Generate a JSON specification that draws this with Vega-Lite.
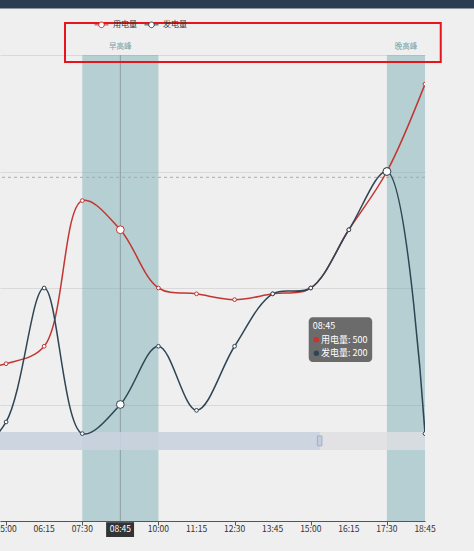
{
  "$schema": "https://vega.github.io/schema/vega-lite/v6.json",
  "width": 425,
  "height": 466,
  "autosize": {"type": "none"},
  "padding": {"left": 0, "top": 55, "right": 49, "bottom": 30},
  "background": "#efefef",
  "config": {
    "view": {"stroke": null},
    "font": "Noto Sans CJK SC"
  },
  "datasets": {
    "power": [
      {"t": 225, "time": "03:45", "series": "用电量", "value": 260},
      {"t": 300, "time": "05:00", "series": "用电量", "value": 270},
      {"t": 375, "time": "06:15", "series": "用电量", "value": 300},
      {"t": 450, "time": "07:30", "series": "用电量", "value": 550},
      {"t": 525, "time": "08:45", "series": "用电量", "value": 500},
      {"t": 600, "time": "10:00", "series": "用电量", "value": 400},
      {"t": 675, "time": "11:15", "series": "用电量", "value": 390},
      {"t": 750, "time": "12:30", "series": "用电量", "value": 380},
      {"t": 825, "time": "13:45", "series": "用电量", "value": 390},
      {"t": 900, "time": "15:00", "series": "用电量", "value": 400},
      {"t": 975, "time": "16:15", "series": "用电量", "value": 500},
      {"t": 1050, "time": "17:30", "series": "用电量", "value": 600},
      {"t": 1125, "time": "18:45", "series": "用电量", "value": 750},
      {"t": 225, "time": "03:45", "series": "发电量", "value": 100},
      {"t": 300, "time": "05:00", "series": "发电量", "value": 170},
      {"t": 375, "time": "06:15", "series": "发电量", "value": 400},
      {"t": 450, "time": "07:30", "series": "发电量", "value": 150},
      {"t": 525, "time": "08:45", "series": "发电量", "value": 200},
      {"t": 600, "time": "10:00", "series": "发电量", "value": 300},
      {"t": 675, "time": "11:15", "series": "发电量", "value": 190},
      {"t": 750, "time": "12:30", "series": "发电量", "value": 300},
      {"t": 825, "time": "13:45", "series": "发电量", "value": 390},
      {"t": 900, "time": "15:00", "series": "发电量", "value": 400},
      {"t": 975, "time": "16:15", "series": "发电量", "value": 500},
      {"t": 1050, "time": "17:30", "series": "发电量", "value": 600},
      {"t": 1125, "time": "18:45", "series": "发电量", "value": 150}
    ],
    "peaks": [
      {"name": "早高峰", "start": 450, "end": 600},
      {"name": "晚高峰", "start": 1050, "end": 1125}
    ]
  },
  "layer": [
    {
      "data": {"values": [{}]},
      "mark": {"type": "rect", "fill": "#2b3e51", "clip": false},
      "encoding": {
        "x": {"datum": 200, "type": "quantitative", "scale": {"domain": [288, 1125]}},
        "x2": {"datum": 1400},
        "y": {"datum": 880, "type": "quantitative", "scale": {"domain": [0, 800]}},
        "y2": {"datum": 1000}
      }
    },
    {
      "data": {"name": "peaks"},
      "mark": {"type": "rect", "fill": "#61a0a8", "opacity": 0.4},
      "encoding": {
        "x": {"field": "start", "type": "quantitative", "scale": {"domain": [288, 1125]}},
        "x2": {"field": "end"},
        "y": {"datum": 800, "type": "quantitative", "scale": {"domain": [0, 800]}},
        "y2": {"datum": 0}
      }
    },
    {
      "data": {"name": "peaks"},
      "transform": [{"calculate": "(datum.start + datum.end) / 2", "as": "mid"}],
      "mark": {"type": "text", "color": "#6fa3ab", "fontSize": 7.5, "dy": -8, "clip": false},
      "encoding": {
        "x": {"field": "mid", "type": "quantitative", "scale": {"domain": [288, 1125]}},
        "y": {"datum": 800, "type": "quantitative", "scale": {"domain": [0, 800]}},
        "text": {"field": "name"}
      }
    },
    {
      "data": {"values": [{}]},
      "mark": {"type": "rule", "color": "#aaaaaa", "strokeDash": [3, 3], "strokeWidth": 1},
      "encoding": {
        "y": {"datum": 590, "type": "quantitative", "scale": {"domain": [0, 800]}}
      }
    },
    {
      "data": {"values": [{}]},
      "mark": {"type": "rule", "color": "#8c9ea3", "strokeWidth": 1},
      "encoding": {
        "x": {"datum": 525, "type": "quantitative", "scale": {"domain": [288, 1125]}}
      }
    },
    {
      "data": {"values": [{}]},
      "mark": {"type": "rect", "fill": "#c9d1de", "opacity": 0.9},
      "encoding": {
        "x": {"datum": 288, "type": "quantitative", "scale": {"domain": [288, 1125]}},
        "x2": {"datum": 918},
        "y": {"datum": 153, "type": "quantitative", "scale": {"domain": [0, 800]}},
        "y2": {"datum": 122}
      }
    },
    {
      "data": {"values": [{}]},
      "mark": {"type": "rect", "fill": "#dedfe2", "opacity": 0.8},
      "encoding": {
        "x": {"datum": 918, "type": "quantitative", "scale": {"domain": [288, 1125]}},
        "x2": {"datum": 1125},
        "y": {"datum": 153, "type": "quantitative", "scale": {"domain": [0, 800]}},
        "y2": {"datum": 122}
      }
    },
    {
      "data": {"values": [{}]},
      "mark": {"type": "rect", "fill": "#c3cddc", "stroke": "#9fb2ca", "strokeWidth": 1},
      "encoding": {
        "x": {"datum": 913, "type": "quantitative", "scale": {"domain": [288, 1125]}},
        "x2": {"datum": 922},
        "y": {"datum": 146, "type": "quantitative", "scale": {"domain": [0, 800]}},
        "y2": {"datum": 129}
      }
    },
    {
      "data": {"name": "power"},
      "mark": {"type": "line", "interpolate": "catmull-rom", "strokeWidth": 1.5, "clip": true},
      "encoding": {
        "x": {
          "field": "t",
          "type": "quantitative",
          "scale": {"domain": [288, 1125]},
          "axis": {
            "values": [300, 375, 450, 525, 600, 675, 750, 825, 900, 975, 1050, 1125],
            "labels": false,
            "title": null,
            "grid": false,
            "domainColor": "#555555",
            "tickColor": "#555555",
            "tickSize": 4
          }
        },
        "y": {
          "field": "value",
          "type": "quantitative",
          "scale": {"domain": [0, 800]},
          "axis": {
            "values": [200, 400, 600, 800],
            "grid": true,
            "gridColor": "#d9d9d9",
            "domain": false,
            "ticks": false,
            "labels": false,
            "title": null
          }
        },
        "color": {
          "field": "series",
          "type": "nominal",
          "sort": ["用电量", "发电量"],
          "scale": {"domain": ["用电量", "发电量"], "range": ["#c23531", "#2f4554"]},
          "legend": {
            "title": null,
            "orient": "none",
            "legendX": 94,
            "legendY": -38,
            "direction": "horizontal",
            "symbolType": "M-1,0L-0.4,0M0.4,0L1,0M0.4,0A0.4,0.4,0,1,1,-0.4,0A0.4,0.4,0,1,1,0.4,0",
            "symbolSize": 196,
            "symbolStrokeWidth": 1,
            "symbolFillColor": "#efefef",
            "labelFontSize": 8,
            "labelColor": "#333333",
            "labelOffset": 4,
            "columnPadding": 5
          }
        }
      }
    },
    {
      "data": {"name": "power"},
      "mark": {"type": "point", "filled": false, "fill": "#ffffff", "fillOpacity": 1, "size": 14, "strokeWidth": 1, "opacity": 1, "clip": true},
      "encoding": {
        "x": {"field": "t", "type": "quantitative", "scale": {"domain": [288, 1125]}},
        "y": {"field": "value", "type": "quantitative", "scale": {"domain": [0, 800]}},
        "color": {"field": "series", "type": "nominal"}
      }
    },
    {
      "data": {"name": "power"},
      "transform": [{"filter": "datum.t == 525 || datum.t == 1050"}],
      "mark": {"type": "point", "filled": false, "fill": "#ffffff", "fillOpacity": 1, "size": 60, "strokeWidth": 1, "opacity": 1, "clip": true},
      "encoding": {
        "x": {"field": "t", "type": "quantitative", "scale": {"domain": [288, 1125]}},
        "y": {"field": "value", "type": "quantitative", "scale": {"domain": [0, 800]}},
        "color": {"field": "series", "type": "nominal"}
      }
    },
    {
      "data": {"name": "power"},
      "transform": [{"filter": "datum.series == '用电量' && datum.t >= 300"}],
      "mark": {"type": "text", "color": "#333333", "fontSize": 8.5, "baseline": "middle", "dy": 8, "clip": false},
      "encoding": {
        "x": {"field": "t", "type": "quantitative", "scale": {"domain": [288, 1125]}},
        "y": {"datum": 0, "type": "quantitative", "scale": {"domain": [0, 800]}},
        "text": {"field": "time"}
      }
    },
    {
      "data": {"values": [{}]},
      "mark": {"type": "rect", "filled": false, "stroke": "#e8141b", "strokeWidth": 2, "clip": false},
      "encoding": {
        "x": {"datum": 416, "type": "quantitative", "scale": {"domain": [288, 1125]}},
        "x2": {"datum": 1156},
        "y": {"datum": 855, "type": "quantitative", "scale": {"domain": [0, 800]}},
        "y2": {"datum": 788}
      }
    },
    {
      "data": {"values": [{}]},
      "mark": {"type": "rect", "fill": "#333333", "opacity": 0.7, "cornerRadius": 4},
      "encoding": {
        "x": {"datum": 896, "type": "quantitative", "scale": {"domain": [288, 1125]}},
        "x2": {"datum": 1021},
        "y": {"datum": 350, "type": "quantitative", "scale": {"domain": [0, 800]}},
        "y2": {"datum": 273}
      }
    },
    {
      "data": {"name": "power"},
      "transform": [{"filter": "datum.t == 525 && datum.series == '用电量'"}],
      "mark": {"type": "text", "color": "#ffffff", "fontSize": 9, "align": "left", "baseline": "middle"},
      "encoding": {
        "x": {"datum": 904, "type": "quantitative", "scale": {"domain": [288, 1125]}},
        "y": {"datum": 335, "type": "quantitative", "scale": {"domain": [0, 800]}},
        "text": {"field": "time"}
      }
    },
    {
      "data": {"name": "power"},
      "transform": [{"filter": "datum.t == 525 && datum.series == '用电量'"}],
      "mark": {"type": "circle", "color": "#c23531", "size": 30, "opacity": 1},
      "encoding": {
        "x": {"datum": 911, "type": "quantitative", "scale": {"domain": [288, 1125]}},
        "y": {"datum": 311, "type": "quantitative", "scale": {"domain": [0, 800]}}
      }
    },
    {
      "data": {"name": "power"},
      "transform": [
        {"filter": "datum.t == 525 && datum.series == '用电量'"},
        {"calculate": "datum.series + ': ' + datum.value", "as": "label"}
      ],
      "mark": {"type": "text", "color": "#ffffff", "fontSize": 9, "align": "left", "baseline": "middle"},
      "encoding": {
        "x": {"datum": 920, "type": "quantitative", "scale": {"domain": [288, 1125]}},
        "y": {"datum": 311, "type": "quantitative", "scale": {"domain": [0, 800]}},
        "text": {"field": "label"}
      }
    },
    {
      "data": {"name": "power"},
      "transform": [{"filter": "datum.t == 525 && datum.series == '发电量'"}],
      "mark": {"type": "circle", "color": "#2f4554", "size": 30, "opacity": 1},
      "encoding": {
        "x": {"datum": 911, "type": "quantitative", "scale": {"domain": [288, 1125]}},
        "y": {"datum": 288, "type": "quantitative", "scale": {"domain": [0, 800]}}
      }
    },
    {
      "data": {"name": "power"},
      "transform": [
        {"filter": "datum.t == 525 && datum.series == '发电量'"},
        {"calculate": "datum.series + ': ' + datum.value", "as": "label"}
      ],
      "mark": {"type": "text", "color": "#ffffff", "fontSize": 9, "align": "left", "baseline": "middle"},
      "encoding": {
        "x": {"datum": 920, "type": "quantitative", "scale": {"domain": [288, 1125]}},
        "y": {"datum": 288, "type": "quantitative", "scale": {"domain": [0, 800]}},
        "text": {"field": "label"}
      }
    },
    {
      "data": {"values": [{}]},
      "mark": {"type": "rect", "fill": "#333333", "clip": false},
      "encoding": {
        "x": {"datum": 497, "type": "quantitative", "scale": {"domain": [288, 1125]}},
        "x2": {"datum": 552},
        "y": {"datum": -2, "type": "quantitative", "scale": {"domain": [0, 800]}},
        "y2": {"datum": -27.5}
      }
    },
    {
      "data": {"name": "power"},
      "transform": [{"filter": "datum.t == 525 && datum.series == '用电量'"}],
      "mark": {"type": "text", "color": "#ffffff", "fontSize": 8.5, "baseline": "middle", "dy": 8, "clip": false},
      "encoding": {
        "x": {"field": "t", "type": "quantitative", "scale": {"domain": [288, 1125]}},
        "y": {"datum": 0, "type": "quantitative", "scale": {"domain": [0, 800]}},
        "text": {"field": "time"}
      }
    }
  ]
}
